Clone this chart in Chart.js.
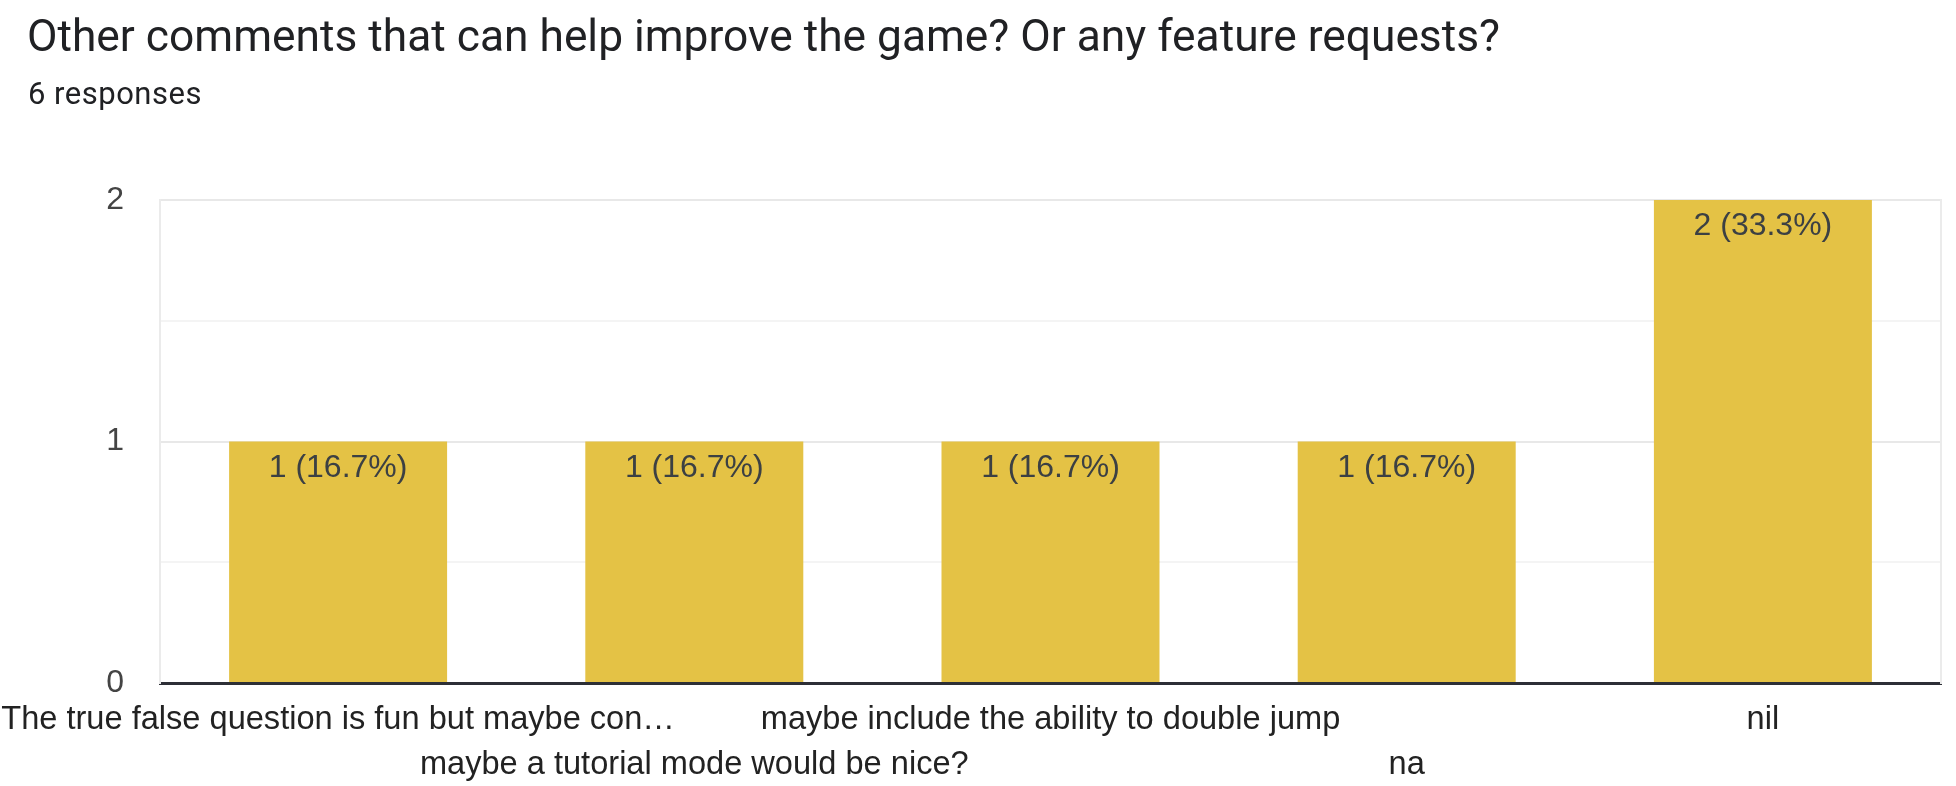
<!DOCTYPE html>
<html>
<head>
<meta charset="utf-8">
<script src="https://cdn.jsdelivr.net/npm/chart.js@4"></script>
<style>
    body { margin: 0; background: #fff; }
    #wrap { position: relative; width: 1956px; height: 786px; }
    #title { position: absolute; left: 27px; top: 14px; font: 44.3px Roboto, sans-serif; line-height: 1; color: #202124; white-space: nowrap; }
    #sub { position: absolute; left: 28px; top: 78px; font: 31px Roboto, sans-serif; letter-spacing: 0.5px; line-height: 1; color: #202124; white-space: nowrap; }
    canvas { position: absolute; left: 0; top: 0; }
</style>
</head>
<body>
<div id="wrap">
    <canvas id="answerChart" width="1956" height="786"></canvas>
    <div id="title">Other comments that can help improve the game? Or any feature requests?</div>
    <div id="sub">6 responses</div>
</div>
<script>
//answers and how many people gave them
const answers = [
    'The true false question is fun but maybe con\u2026',
    'maybe a tutorial mode would be nice?',
    'maybe include the ability to double jump',
    'na',
    'nil'
];
const counts = [1, 1, 1, 1, 2];
const yTicks = [0, 1, 2];

const total = counts.reduce((a, b) => a + b, 0);

//writes "n (xx.x%)" near the top of each bar
const barLabels = {
    id: 'barLabels',
    afterDatasetsDraw(chart) {
        const ctx = chart.ctx;
        ctx.save();
        ctx.font = '32px "Liberation Sans", Arial, sans-serif';
        ctx.fillStyle = '#3c4043';
        ctx.textAlign = 'center';
        ctx.textBaseline = 'alphabetic';
        chart.getDatasetMeta(0).data.forEach((bar, i) => {
            const pct = (counts[i] / total * 100).toFixed(1);
            ctx.fillText(counts[i] + ' (' + pct + '%)', bar.x, bar.y + 35);
        });
        ctx.restore();
    }
};

const ctx = document.getElementById('answerChart').getContext('2d');
const answerChart = new Chart(ctx, {
    type: 'bar',
    data: {
        labels: answers,
        datasets: [{
            data: counts,
            backgroundColor: '#e4c245',
            categoryPercentage: 1,
            barPercentage: 0.612
        }]
    },
    options: {
        responsive: false,
        animation: false,
        devicePixelRatio: 1,
        layout: { padding: { top: 200, right: 15, left: 0, bottom: 0 } },
        plugins: {
            legend: { display: false },
            tooltip: { enabled: false }
        },
        scales: {
            x: {
                grid: { display: false },
                border: { color: '#2d2f36', width: 3 },
                ticks: {
                    autoSkip: false,
                    maxRotation: 0,
                    minRotation: 0,
                    padding: 7,
                    color: '#222222',
                    font: { family: '"Liberation Sans", Arial, sans-serif', size: 32.6, lineHeight: 1.38 },
                    callback: function (value, index) {
                        const label = this.getLabelForValue(value);
                        return index % 2 === 0 ? label : ['', label];
                    }
                },
                afterFit: scale => {
                    scale.height = 103;
                    scale.paddingLeft = 0;
                    scale.paddingRight = 0;
                }
            },
            y: {
                min: 0,
                max: 2,
                border: { color: '#ebebeb', width: 2 },
                grid: {
                    drawTicks: false,
                    lineWidth: 2,
                    color: c => yTicks.includes(c.tick.value) ? '#e8e8e8' : '#f4f4f4'
                },
                ticks: {
                    stepSize: 0.5,
                    padding: 36,
                    color: '#444444',
                    font: { family: '"Liberation Sans", Arial, sans-serif', size: 32 },
                    callback: value => yTicks.includes(value) ? value : ''
                },
                afterFit: scale => { scale.width = 160; }
            },
            yRight: {
                position: 'right',
                min: 0,
                max: 2,
                border: { color: '#ebebeb', width: 2 },
                grid: { display: false, drawTicks: false },
                ticks: { display: false },
                afterFit: scale => { scale.width = 0; }
            }
        }
    },
    plugins: [barLabels]
});
</script>
</body>
</html>
